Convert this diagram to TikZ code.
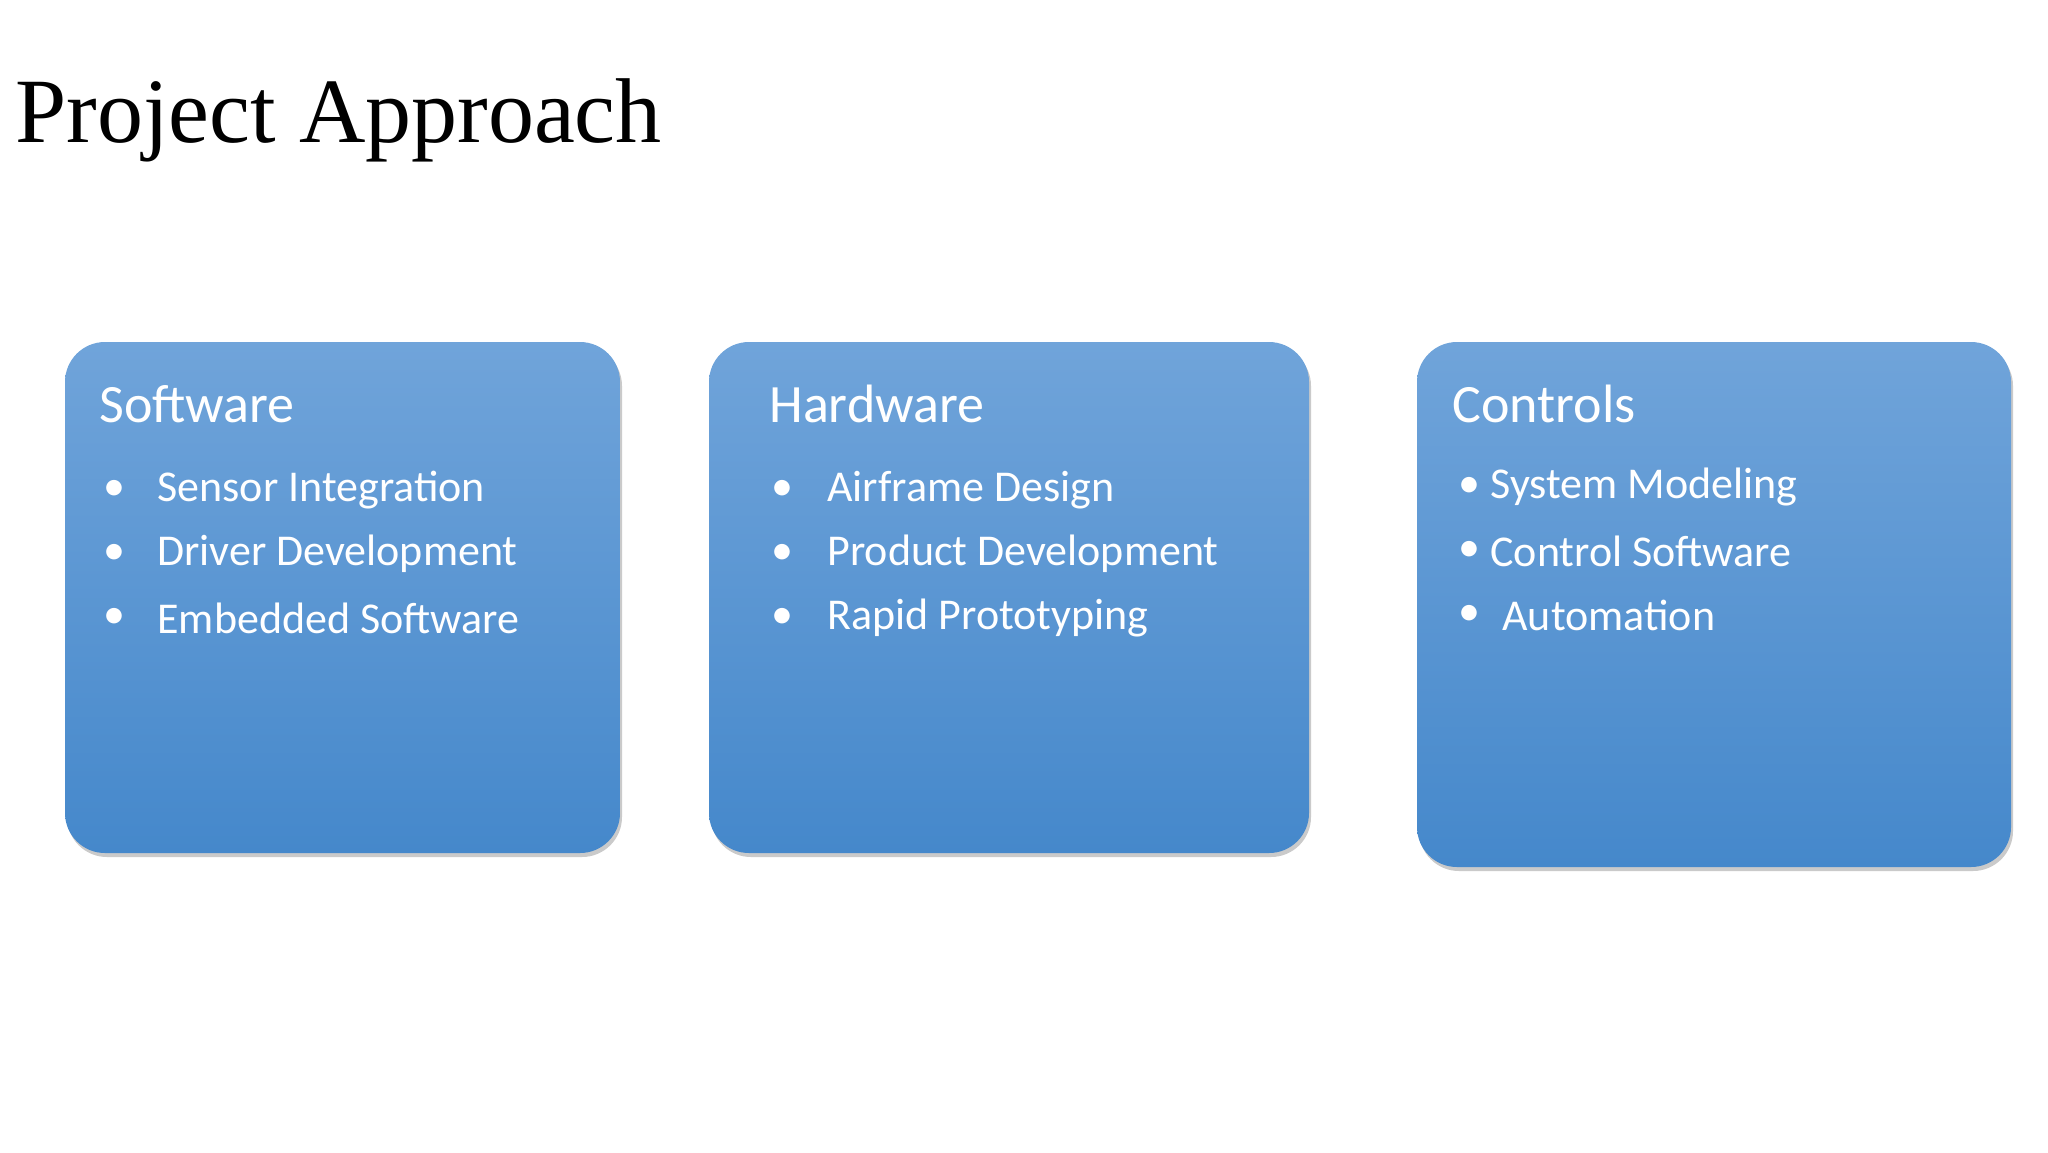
\documentclass[tikz,border=0pt]{standalone}
\usepackage{fontspec}
\setmainfont{Carlito}
\newfontfamily\titlefont{Liberation Serif}
\usetikzlibrary{shadows}
\definecolor{boxtop}{HTML}{70A4DA}
\definecolor{boxbot}{HTML}{4588CB}
\tikzset{
  card/.style={rounded corners=20pt, top color=boxtop, bottom color=boxbot, draw=none,
    drop shadow={shadow xshift=1pt, shadow yshift=-2pt, opacity=0.35, fill=black!60}},
  head/.style={anchor=west, text=white, font=\fontsize{27}{30}\selectfont, inner sep=0},
  item/.style={anchor=west, text=white, font=\fontsize{22}{26}\selectfont, inner sep=0},
}
\begin{document}
\begin{tikzpicture}[x=0.5pt,y=-0.5pt]
\useasboundingbox (0,0) rectangle (2048,1152);
\node[anchor=base west, inner sep=0, font=\titlefont\fontsize{46}{50}\selectfont] (title) at (15,142) {Project Approach};
% boxes
\path[card] (65,342) rectangle (620,853);
\path[card] (709,342) rectangle (1309,853);
\path[card] (1417,342) rectangle (2011,867);
\node[head] (h1) at (99,404) {Software};
\node[head] (h2) at (769,404) {Hardware};
\node[head] (h3) at (1452,404) {Controls};
\foreach \y/\t [count=\i] in {490/Sensor Integration, 554/Driver Development, 618/Embedded Software}{
  \node[item] (b1\i) at (103,\y) {•}; \node[item] (s1\i) at (157,\y) {\t};}
\foreach \y/\t [count=\i] in {490/Airframe Design, 554/Product Development, 618/Rapid Prototyping}{
  \node[item] (b2\i) at (771,\y) {•}; \node[item] (s2\i) at (827,\y) {\t};}
\foreach \y/\t/\x [count=\i] in {487/System Modeling/1490, 551/Control Software/1490, 615/Automation/1502}{
  \node[item] (b3\i) at (1458,\y) {•}; \node[item] (s3\i) at (\x,\y) {\t};}
\end{tikzpicture}
\end{document}
